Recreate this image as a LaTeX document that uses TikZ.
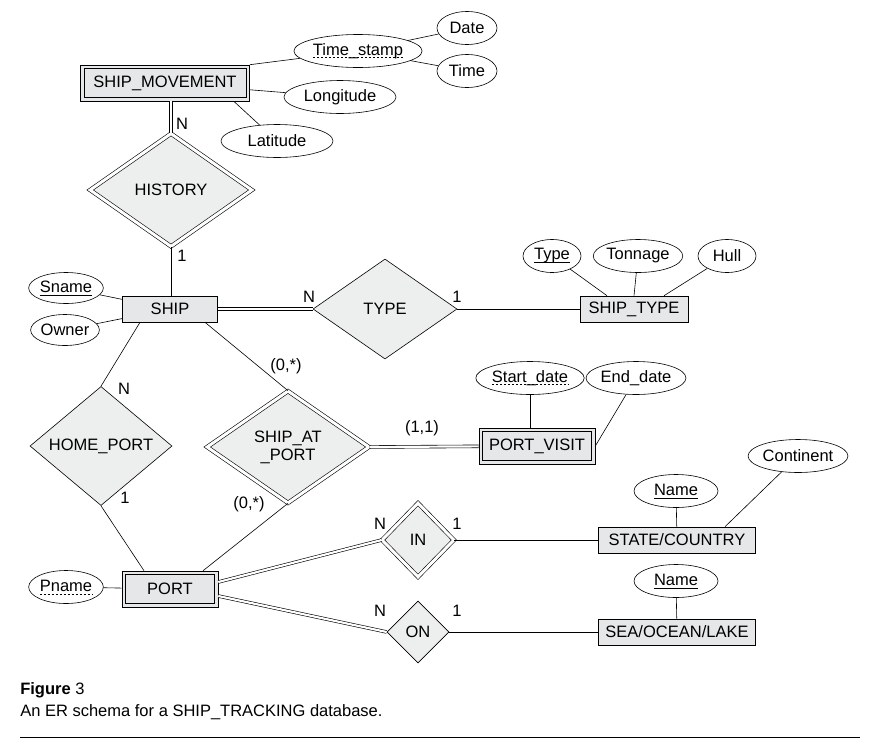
\documentclass[tikz,border=0pt]{standalone}
\usepackage{fontspec}
\setmainfont{Liberation Sans}
\usetikzlibrary{shapes.geometric}
\definecolor{entgray}{HTML}{E6E7E8}
\definecolor{relgray}{HTML}{EDEEEE}
\newcommand\keyline[2]{\tikz[baseline=(k.base)]{\node[shape=rectangle,draw=none,fill=none,minimum width=0pt,minimum height=0pt,inner sep=0pt,outer sep=0pt] (k) {#2};
  \draw[#1,line width=0.5pt] ([yshift=-2.4pt]k.base west) -- ([yshift=-2.4pt]k.base east);}}
\newcommand\solidkey[1]{\keyline{solid}{#1}}
\newcommand\dashkey[1]{\keyline{dash pattern=on 2.5pt off 1.5pt}{#1}}
\tikzset{
  entity/.style={draw,fill=entgray,rectangle,inner sep=0pt,minimum height=26pt},
  weak/.style={entity,minimum height=36pt},
  attr/.style={draw,ellipse,inner sep=0pt,minimum height=33pt},
  rel/.style={draw,fill=relgray,diamond,inner sep=0pt},
  wrel/.style={rel,double,double distance=3pt},
  total/.style={double,double distance=2.2pt},
  card/.style={inner sep=1pt}
}
\begin{document}
\begin{tikzpicture}[x=1pt,y=-1pt,font=\fontsize{16.5}{18}\selectfont,line width=0.6pt]
\useasboundingbox (0,0) rectangle (870,745);
% entities
\node[weak,minimum width=169pt] (shipmov) at (165,83) {SHIP\_MOVEMENT};
\node[entity,minimum width=95pt] (ship) at (170,309) {SHIP};
\node[entity,minimum width=108pt] (shiptype) at (634,309) {SHIP\_TYPE};
\node[weak,minimum width=116pt] (portvisit) at (537,446) {PORT\_VISIT};
\node[weak,minimum width=96pt] (port) at (170,589) {PORT};
\node[entity,minimum width=157pt] (state) at (677,540) {STATE/COUNTRY};
\node[entity,minimum width=157pt] (sea) at (677,632) {SEA/OCEAN/LAKE};
\foreach \w in {shipmov,portvisit,port}
  \draw ([xshift=4pt,yshift=4pt]\w.south west) rectangle ([xshift=-4pt,yshift=-4pt]\w.north east);
% relationships
\node[wrel,minimum width=162pt,minimum height=113pt] (history) at (171,190) {HISTORY};
\node[rel,minimum width=144pt,minimum height=100pt] (type) at (385,309) {TYPE};
\node[rel,minimum width=142pt,minimum height=102pt] (homeport) at (101,446) {HOME\_PORT};
\node[wrel,minimum width=162pt,minimum height=112pt,align=center] (shipatport) at (288,447) {SHIP\_AT\\\_PORT};
\node[wrel,minimum width=72pt,minimum height=74pt] (in) at (418,540) {IN};
\node[rel,minimum width=62pt,minimum height=62pt] (on) at (418,632) {ON};
% attributes
\node[attr,minimum width=124pt] (timestamp) at (358,51) {\dashkey{Time\_stamp}};
\node[attr,minimum width=60pt] (date) at (467,28) {Date};
\node[attr,minimum width=60pt] (time) at (467,71) {Time};
\node[attr,minimum width=112pt] (longitude) at (340,97) {Longitude};
\node[attr,minimum width=112pt] (latitude) at (277,141) {Latitude};
\node[attr,minimum width=64pt,minimum height=31pt] (sname) at (66,288) {\solidkey{Sname}};
\node[attr,minimum width=62pt,minimum height=31pt] (owner) at (65,330) {Owner};
\node[attr,minimum width=58pt] (typeattr) at (552,256) {\solidkey{Type}};
\node[attr,minimum width=84pt] (tonnage) at (638,256) {Tonnage};
\node[attr,minimum width=58pt] (hull) at (727,256) {Hull};
\node[attr,minimum width=108pt] (startdate) at (530,378) {\dashkey{Start\_date}};
\node[attr,minimum width=84pt] (enddate) at (636,378) {End\_date};
\node[attr,minimum width=68pt] (pname) at (66,587) {\dashkey{Pname}};
\node[attr,minimum width=84pt] (name1) at (676,491) {\solidkey{Name}};
\node[attr,minimum width=84pt] (continent) at (798,456) {Continent};
\node[attr,minimum width=84pt] (name2) at (676,581) {\solidkey{Name}};
% attribute links
\draw (shipmov.north east) -- (timestamp);
\draw (timestamp) -- (date);
\draw (timestamp) -- (time);
\draw (shipmov) -- (longitude);
\draw ([xshift=-16pt]shipmov.south east) -- (latitude);
\draw (sname) -- (ship);
\draw (owner) -- (ship);
\draw (typeattr) -- ([xshift=-27pt]shiptype.north);
\draw (tonnage) -- (shiptype.north);
\draw (hull) -- ([xshift=30pt]shiptype.north);
\draw (startdate) -- (startdate |- portvisit.north);
\draw (enddate) -- (portvisit.east);
\draw (pname) -- (port);
\draw (name1) -- (state);
\draw (continent) -- ([xshift=48pt]state.north);
\draw (name2) -- (sea);
% relationship links
\draw[total] (history.north) -- (history.north |- shipmov.south);
\draw (history.south) -- (history.south |- ship.north);
\draw[total] (ship) -- (type.west);
\draw (type.east) -- (shiptype);
\draw ([xshift=-30pt]ship.south) -- (homeport.north);
\draw ([xshift=35pt]ship.south) -- (shipatport.north);
\draw[total] (shipatport.east) -- (portvisit);
\draw (homeport.south) -- ([xshift=-26pt]port.north);
\draw (shipatport.south) -- ([xshift=33pt]port.north);
\draw[total] ([yshift=7pt]port.east) -- (in.west);
\draw (in.east) -- (state);
\draw[total] ([yshift=-7pt]port.east) -- (on.west);
\draw (on.east) -- (sea);
% cardinalities
\node[card] (c1) at (182,124) {N};
\node[card] (c2) at (182,256) {1};
\node[card] (c3) at (309,297) {N};
\node[card] (c4) at (457,297) {1};
\node[card] (c5) at (124,389) {N};
\node[card] (c6) at (125,498) {1};
\node[card] (c7) at (286,366) {(0,*)};
\node[card] (c8) at (249,504) {(0,*)};
\node[card] (c9) at (422,428) {(1,1)};
\node[card] (c10) at (380,524) {N};
\node[card] (c11) at (457,524) {1};
\node[card] (c12) at (380,611) {N};
\node[card] (c13) at (457,611) {1};
% caption
\node[anchor=west,inner sep=0pt] (fig) at (20,690) {\textbf{Figure} 3};
\node[anchor=west,inner sep=0pt] (cap) at (20,712) {An ER schema for a SHIP\_TRACKING database.};
\draw[line width=0.8pt] (20,737) -- (860,737);
\end{tikzpicture}
\end{document}
